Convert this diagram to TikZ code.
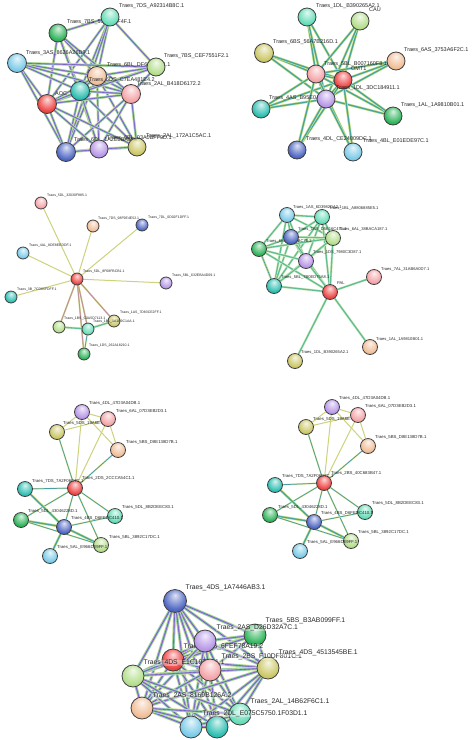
\documentclass[tikz,border=0pt]{standalone}
\usepackage{fontspec}
\setmainfont{Liberation Sans}
\pgfdeclarelayer{edges}
\pgfdeclarelayer{under}
\pgfdeclarelayer{over}
\pgfsetlayers{edges,under,main,over}
\makeatletter
\pgfdeclareradialshading[tikz@ball]{stringball}{\pgfqpoint{0bp}{13bp}}{%
 color(0bp)=(tikz@ball!18!white); color(11bp)=(tikz@ball!55!white);
 color(25bp)=(tikz@ball); color(38bp)=(tikz@ball!88!black); color(50bp)=(tikz@ball!62!black)}
\makeatother
\definecolor{cRed}{HTML}{EE4444}\definecolor{cTeal}{HTML}{2FBFB2}
\definecolor{cMint}{HTML}{66DDB8}\definecolor{cGreen}{HTML}{2FB45A}
\definecolor{cSky}{HTML}{7CCBE8}\definecolor{cTan}{HTML}{F0BE98}
\definecolor{cLime}{HTML}{B4DE8C}\definecolor{cPink}{HTML}{F4A4A8}
\definecolor{cBlue}{HTML}{5068C4}\definecolor{cPurple}{HTML}{B898E8}
\definecolor{cOlive}{HTML}{CCC868}
\definecolor{eYel}{HTML}{DDE68C}\definecolor{eTeal}{HTML}{74D2B4}
\definecolor{ePur}{HTML}{B888DC}\definecolor{eDark}{HTML}{4A5CB0}
\definecolor{eGrn}{HTML}{62BE92}\definecolor{ePale}{HTML}{D6EEC4}
\definecolor{eOli}{HTML}{CDD27C}\definecolor{eBlu}{HTML}{3F8FA8}
\definecolor{ePnk}{HTML}{C08CA0}
\tikzset{
 x=1pt,y=-1pt,
 txt/.style={anchor=west,inner sep=0pt,text=black!85},
 lA/.style={txt,font=\fontsize{5.5}{6}\selectfont},
 lC/.style={txt,font=\fontsize{3.5}{4}\selectfont},
 lD/.style={txt,font=\fontsize{4.1}{5}\selectfont},
 lE/.style={txt,font=\fontsize{4.3}{5}\selectfont},
 lG/.style={txt,font=\fontsize{6.8}{8}\selectfont,inner sep=.4pt,fill=white,fill opacity=.35,text opacity=1},
}
% ball: radius, name, x, y, colour
\newcommand\sball[5]{\node[circle,inner sep=0pt,minimum size=#1pt*2,draw=black!75,line width=.8pt,ball color=#5,shading=stringball] (#2) at (#3,#4) {};}
% label over the balls / label hidden by the balls
\newcommand\tlab[5]{\begin{pgfonlayer}{over}\node[#1] (#2) at (#3,#4) {#5};\end{pgfonlayer}}
\newcommand\ulab[5]{\begin{pgfonlayer}{under}\node[#1] (#2) at (#3,#4) {#5};\end{pgfonlayer}}
% edge bundles
\newcommand\rich[1]{\begin{pgfonlayer}{edges}\foreach \a/\b in {#1}{%
 \draw[line width=2.7pt,color=eYel](\a)--(\b);
 \draw[line width=1.9pt,color=eTeal](\a)--(\b);
 \draw[line width=1.1pt,color=ePur](\a)--(\b);
 \draw[line width=.35pt,color=eDark](\a)--(\b);}\end{pgfonlayer}}
\newcommand\richbig[1]{\begin{pgfonlayer}{edges}\foreach \a/\b in {#1}{%
 \draw[line width=3.2pt,color=eYel](\a)--(\b);
 \draw[line width=2.3pt,color=eTeal](\a)--(\b);
 \draw[line width=1.3pt,color=ePur](\a)--(\b);
 \draw[line width=.4pt,color=eDark](\a)--(\b);}\end{pgfonlayer}}
\newcommand\greenb[1]{\begin{pgfonlayer}{edges}\foreach \a/\b in {#1}{%
 \draw[line width=2.6pt,color=eYel](\a)--(\b);
 \draw[line width=1.6pt,color=eGrn](\a)--(\b);
 \draw[line width=.4pt,color=eBlu](\a)--(\b);}\end{pgfonlayer}}
\newcommand\palegreen[1]{\begin{pgfonlayer}{edges}\foreach \a/\b in {#1}{%
 \draw[line width=2.4pt,color=ePale](\a)--(\b);
 \draw[line width=1.3pt,color=eGrn](\a)--(\b);}\end{pgfonlayer}}
\newcommand\thinb[1]{\begin{pgfonlayer}{edges}\foreach \a/\b in {#1}{%
 \draw[line width=1pt,color=eOli](\a)--(\b);}\end{pgfonlayer}}
\newcommand\tealb[1]{\begin{pgfonlayer}{edges}\foreach \a/\b in {#1}{%
 \draw[line width=1.5pt,color=eYel](\a)--(\b);
 \draw[line width=.75pt,color=eBlu!70!eGrn](\a)--(\b);}\end{pgfonlayer}}
\newcommand\pinkb[1]{\begin{pgfonlayer}{edges}\foreach \a/\b in {#1}{%
 \draw[line width=1.6pt,color=eOli](\a)--(\b);
 \draw[line width=.8pt,color=ePnk](\a)--(\b);}\end{pgfonlayer}}
\begin{document}
\begin{tikzpicture}
\useasboundingbox (0,0) rectangle (474,740);
% ---------- panel A
\sball{9}{a1}{110}{17}{cMint}\sball{9}{a2}{58}{33}{cGreen}\sball{9.5}{a3}{17}{63}{cSky}
\sball{9.5}{a4}{97}{76}{cTan}\sball{9}{a5}{156}{67}{cLime}\sball{9.5}{a6}{80}{91}{cTeal}
\sball{9.5}{a7}{131}{94}{cPink}\sball{9.5}{a8}{47}{104}{cRed}\sball{9.5}{a9}{66}{152}{cBlue}
\sball{9}{a10}{99}{149}{cPurple}\sball{9}{a11}{137}{147}{cOlive}
\rich{a1/a2,a1/a4,a1/a5,a1/a6,a1/a8,a1/a9,a2/a4,a2/a6,a2/a7,a2/a8,a2/a10,a3/a4,a3/a5,a3/a6,a3/a7,a3/a8,a3/a9,
a4/a5,a4/a6,a4/a7,a4/a8,a4/a9,a4/a10,a4/a11,a5/a6,a5/a7,a5/a8,a6/a7,a6/a8,a6/a9,a6/a10,a6/a11,a7/a8,a7/a9,a7/a10,a7/a11,
a8/a9,a8/a10,a8/a11,a9/a10,a9/a11,a10/a11}
\tlab{lA}{ta1}{119}{6}{Traes\_7DS\_A92314B8C.1}
\ulab{lA}{ta2}{67}{22}{Traes\_7BS\_5C2A91F4F.1}
\tlab{lA}{ta3}{26}{53}{Traes\_3AS\_8626A26D9.1}
\ulab{lA}{ta4}{107}{65}{Traes\_6BL\_DF6E41911.1}
\tlab{lA}{ta5}{164}{56}{Traes\_7BS\_CEF7551F2.1}
\tlab{lA}{ta6}{89}{80}{Traes\_6DS\_C7EA481E4.2}
\ulab{lA}{ta7}{137}{84}{Traes\_2AL\_B418D6172.2}
\ulab{lA}{ta8}{55}{94}{AOC}
\ulab{lA}{ta9}{74}{140}{Traes\_6DL\_1A2E0BA5C.1}
\tlab{lA}{ta10}{107}{138}{Traes\_6BL\_03A0BFF9D.1}
\ulab{lA}{ta11}{146}{136}{Traes\_2AL\_172A1C5AC.1}
% ---------- panel B
\sball{9}{b1}{307}{17}{cMint}\sball{9}{b2}{360}{21}{cLime}\sball{9.5}{b3}{264}{53}{cOlive}
\sball{9}{b4}{396}{61}{cTan}\sball{9}{b5}{316}{74}{cPink}\sball{9}{b6}{343}{80}{cRed}
\sball{9}{b7}{326}{99}{cPurple}\sball{9}{b8}{261}{109}{cTeal}\sball{9}{b9}{393}{116}{cGreen}
\sball{9}{b10}{297}{150}{cBlue}\sball{9}{b11}{353}{152}{cSky}
\greenb{b1/b5,b1/b6,b1/b7,b2/b5,b2/b6,b2/b7,b3/b5,b3/b6,b3/b7,b4/b5,b4/b6,b4/b7,b5/b6,b5/b7,b6/b7,
b8/b5,b8/b6,b8/b7,b9/b5,b9/b6,b9/b7,b10/b5,b10/b6,b10/b7,b11/b5,b11/b6,b11/b7}
\tlab{lA}{tb1}{316}{6}{Traes\_1DL\_B390265A2.1}
\tlab{lA}{tb2}{369}{10}{CAU}
\tlab{lA}{tb3}{273}{42}{Traes\_6BS\_56A7B216D.1}
\tlab{lA}{tb4}{404}{50}{Traes\_6AS\_3753A6F2C.1}
\tlab{lA}{tb5}{324}{64}{Traes\_5BL\_B007160F8.1}
\tlab{lA}{tb6}{351}{69}{OMT1}
\tlab{lA}{tb7}{336}{88}{Traes\_1DL\_3DC184911.1}
\ulab{lA}{tb8}{269}{98}{Traes\_4AS\_B95E0A1C2.1}
\tlab{lA}{tb9}{401}{105}{Traes\_1AL\_1A9810B01.1}
\tlab{lA}{tb10}{306}{139}{Traes\_4DL\_CE24009DC.1}
\tlab{lA}{tb11}{363}{141}{Traes\_4BL\_E01EDE97C.1}
% ---------- panel C
\sball{6}{c1}{41}{203}{cPink}\sball{6}{c2}{93}{226}{cTan}\sball{6}{c3}{142}{225}{cBlue}
\sball{6}{c4}{23}{253}{cSky}\sball{6}{c5}{77}{279}{cRed}\sball{6}{c6}{166}{283}{cPurple}
\sball{6}{c7}{11}{297}{cTeal}\sball{6}{c8}{114}{321}{cOlive}\sball{6}{c9}{59}{327}{cLime}
\sball{6}{c10}{88}{329}{cMint}\sball{6}{c11}{84}{354}{cGreen}
\thinb{c5/c1,c5/c2,c5/c3,c5/c4,c5/c6,c5/c7}
\pinkb{c5/c8,c5/c9,c5/c10,c5/c11}
\palegreen{c9/c10,c10/c8}
\tealb{c10/c11}
\tlab{lC}{tc1}{47}{196}{Traes\_5DL\_32030F885.1}
\ulab{lC}{tc2}{98}{219}{Traes\_7DS\_98F9E4E52.1}
\tlab{lC}{tc3}{148}{218}{Traes\_7DL\_0D02F1DFF.1}
\tlab{lC}{tc4}{29}{246}{Traes\_4AL\_8DE8EEDDF.1}
\tlab{lC}{tc5}{83}{272}{Traes\_5DL\_8F68FBCB1.1}
\tlab{lC}{tc6}{172}{276}{Traes\_5BL\_632EBA4D09.1}
\tlab{lC}{tc7}{17}{290}{Traes\_3B\_7CD85FDFF.1}
\tlab{lC}{tc8}{120}{313}{Traes\_1AS\_7D83CE2FF.1}
\tlab{lC}{tc9}{64}{319}{Traes\_1BS\_C0A5D7113.1}
\tlab{lC}{tc10}{93}{322}{Traes\_1BL\_1A1E9C1AA.1}
\tlab{lC}{tc11}{89}{346}{Traes\_1DS\_262A18210.1}
% ---------- panel D
\sball{7.5}{d1}{287}{215}{cSky}\sball{7.5}{d2}{322}{217}{cMint}\sball{7.5}{d3}{291}{237}{cBlue}
\sball{7.5}{d4}{333}{238}{cLime}\sball{7.5}{d5}{259}{249}{cGreen}\sball{7.5}{d6}{306}{261}{cPurple}
\sball{7.5}{d7}{274}{286}{cTeal}\sball{7.5}{d8}{330}{292}{cRed}\sball{7.5}{d9}{374}{277}{cPink}
\sball{7.5}{d10}{370}{347}{cTan}\sball{7.5}{d11}{295}{361}{cOlive}
\palegreen{d1/d2,d1/d3,d1/d4,d1/d5,d1/d6,d1/d7,d2/d3,d2/d4,d2/d6,d2/d7,d2/d8,d3/d4,d3/d5,d3/d6,d3/d7,d3/d8,
d4/d5,d4/d6,d4/d7,d4/d8,d5/d6,d5/d7,d5/d8,d6/d7,d6/d8,d7/d8,d8/d9,d8/d10,d8/d11}
\tealb{d5/d7}
\tlab{lD}{td1}{293}{207}{Traes\_1AS\_6D3982DA2.1}
\tlab{lD}{td2}{329}{208}{Traes\_1BL\_A8806885E5.1}
\tlab{lD}{td3}{298}{229}{Traes\_1BS\_D5E16C471.1}
\tlab{lD}{td4}{339}{229}{Traes\_6AL\_38BACA187.1}
\ulab{lD}{td5}{266}{241}{Traes\_6BL\_64FFBC78.2}
\tlab{lD}{td6}{313}{252}{Traes\_1DS\_7980C3D87.1}
\tlab{lD}{td7}{281}{277}{Traes\_5BL\_7B0ED75A8.1}
\tlab{lD}{td8}{337}{283}{PAL}
\tlab{lD}{td9}{381}{269}{Traes\_7AL\_31AB6A0D7.1}
\tlab{lD}{td10}{376}{339}{Traes\_1AL\_1A9810B01.1}
\tlab{lD}{td11}{301}{352}{Traes\_1DL\_B390265A2.1}
% ---------- panel E
\sball{7.5}{e1}{82}{412}{cPurple}\sball{7.5}{e2}{108}{419}{cPink}\sball{7.5}{e3}{57}{432}{cOlive}
\sball{7.5}{e4}{118}{450}{cTan}\sball{7.5}{e5}{75}{488}{cRed}\sball{7.5}{e6}{25}{489}{cTeal}
\sball{7.5}{e7}{115}{516}{cMint}\sball{7.5}{e8}{21}{520}{cGreen}\sball{7.5}{e9}{64}{527}{cBlue}
\sball{7.5}{e10}{101}{545}{cLime}\sball{7.5}{e11}{50}{556}{cSky}
\thinb{e1/e2,e1/e3,e1/e4,e2/e3,e2/e4,e5/e1,e5/e2}
\tealb{e5/e3,e5/e4,e5/e6,e5/e7,e5/e8,e5/e9,e5/e10}
\greenb{e6/e9,e8/e9,e9/e10,e9/e11}
\tealb{e9/e7,e8/e10}
\tlab{lE}{te1}{89}{403}{Traes\_4DL\_47D3A04DB.1}
\tlab{lE}{te2}{116}{411}{Traes\_6AL\_07D3EB2D3.1}
\ulab{lE}{te3}{63}{423}{Traes\_5DS\_19A6E7B01.1}
\tlab{lE}{te4}{126}{442}{Traes\_5BS\_D8E138D7B.1}
\tlab{lE}{te5}{82}{478}{Traes\_2DS\_2CCCA54C1.1}
\tlab{lE}{te6}{32}{481}{Traes\_7DS\_7A2F06C7C.1}
\tlab{lE}{te7}{122}{507}{Traes\_5DL\_8B2DEEC83.1}
\tlab{lE}{te8}{28}{511}{Traes\_5DL\_43046228D.1}
\tlab{lE}{te9}{71}{518}{Traes\_4BS\_D6FEDC410.1}
\tlab{lE}{te10}{109}{537}{Traes\_5BL\_3892C17DC.1}
\tlab{lE}{te11}{57}{547}{Traes\_5AL\_E966DE9FF.1}
% ---------- panel F
\sball{7.5}{f1}{332}{407}{cPurple}\sball{7.5}{f2}{358}{415}{cPink}\sball{7.5}{f3}{306}{427}{cOlive}
\sball{7.5}{f4}{368}{446}{cTan}\sball{7.5}{f5}{324}{483}{cRed}\sball{7.5}{f6}{275}{485}{cTeal}
\sball{7.5}{f7}{365}{512}{cMint}\sball{7.5}{f8}{270}{515}{cGreen}\sball{7.5}{f9}{314}{522}{cBlue}
\sball{7.5}{f10}{351}{541}{cLime}\sball{7.5}{f11}{300}{551}{cSky}
\thinb{f1/f2,f1/f3,f1/f4,f2/f3,f2/f4,f5/f1,f5/f2}
\tealb{f5/f3,f5/f4,f5/f6,f5/f7,f5/f8,f5/f9,f5/f10}
\greenb{f6/f9,f8/f9,f9/f10,f9/f11}
\tealb{f9/f7,f8/f10}
\tlab{lE}{tf1}{339}{398}{Traes\_4DL\_47D3A04DB.1}
\tlab{lE}{tf2}{365}{406}{Traes\_6AL\_07D3EB2D3.1}
\ulab{lE}{tf3}{313}{419}{Traes\_5DS\_19A6E7B01.1}
\tlab{lE}{tf4}{375}{437}{Traes\_5BS\_D8E138D7B.1}
\tlab{lE}{tf5}{331}{473}{Traes\_2BS\_40C683B47.1}
\tlab{lE}{tf6}{282}{476}{Traes\_7DS\_7A2F06C7C.1}
\tlab{lE}{tf7}{372}{503}{Traes\_5DL\_8B2DEEC83.1}
\tlab{lE}{tf8}{278}{507}{Traes\_5DL\_43046228D.1}
\tlab{lE}{tf9}{321}{513}{Traes\_4BS\_D6FEDC410.1}
\tlab{lE}{tf10}{358}{532}{Traes\_5BL\_3892C17DC.1}
\tlab{lE}{tf11}{307}{542}{Traes\_5AL\_E966DE9FF.1}
% ---------- panel G
\sball{11.5}{g1}{175}{601}{cBlue}\sball{11}{g2}{255}{635}{cGreen}
\sball{11}{g4}{173}{660}{cRed}\sball{11}{g6}{268}{668}{cOlive}
\sball{11}{g7}{133}{676}{cLime}\sball{11}{g8}{142}{708}{cTan}\sball{11}{g9}{240}{714}{cMint}
\sball{11}{g10}{191}{727}{cSky}\sball{11}{g11}{217}{727}{cTeal}
\tlab{lG}{tg4}{183}{647}{Traes\_2BS\_6FEF78A19.2}
\tlab{lG}{tg5}{143}{663}{Traes\_4DS\_E1C19B5A1.1}
\begin{pgfonlayer}{over}\sball{11}{g3}{205}{641}{cPurple}\sball{11}{g5}{210}{670}{cPink}\end{pgfonlayer}
\richbig{g1/g2,g1/g3,g1/g4,g1/g5,g1/g6,g1/g7,g1/g8,g1/g10,g1/g11,g2/g3,g2/g4,g2/g5,g2/g6,g2/g7,
g3/g4,g3/g5,g3/g6,g3/g7,g3/g8,g3/g9,g3/g10,g3/g11,g4/g5,g4/g6,g4/g7,g4/g8,g4/g9,g4/g10,g4/g11,
g5/g6,g5/g7,g5/g8,g5/g9,g5/g10,g5/g11,g6/g7,g6/g8,g6/g9,g6/g10,g6/g11,g7/g8,g7/g9,g7/g10,g7/g11,
g8/g9,g8/g10,g8/g11,g9/g10,g9/g11,g10/g11}
\tlab{lG}{tg1}{185}{588}{Traes\_4DS\_1A7446AB3.1}
\tlab{lG}{tg2}{265}{621}{Traes\_5BS\_B3AB099FF.1}
\tlab{lG}{tg3}{216}{628}{Traes\_2AS\_D26D32A7C.1}
\tlab{lG}{tg6}{221}{657}{Traes\_2BS\_F10DF801C.1}
\tlab{lG}{tg7}{278}{653}{Traes\_4DS\_4513545BE.1}
\tlab{lG}{tg8}{152}{696}{Traes\_2AS\_8169B126A.2}
\tlab{lG}{tg9}{250}{702}{Traes\_2AL\_14B62F6C1.1}
\tlab{lG}{tg10}{202}{714}{Traes\_2DL\_E075C5750.1F03D1.1}
\end{tikzpicture}
\end{document}
